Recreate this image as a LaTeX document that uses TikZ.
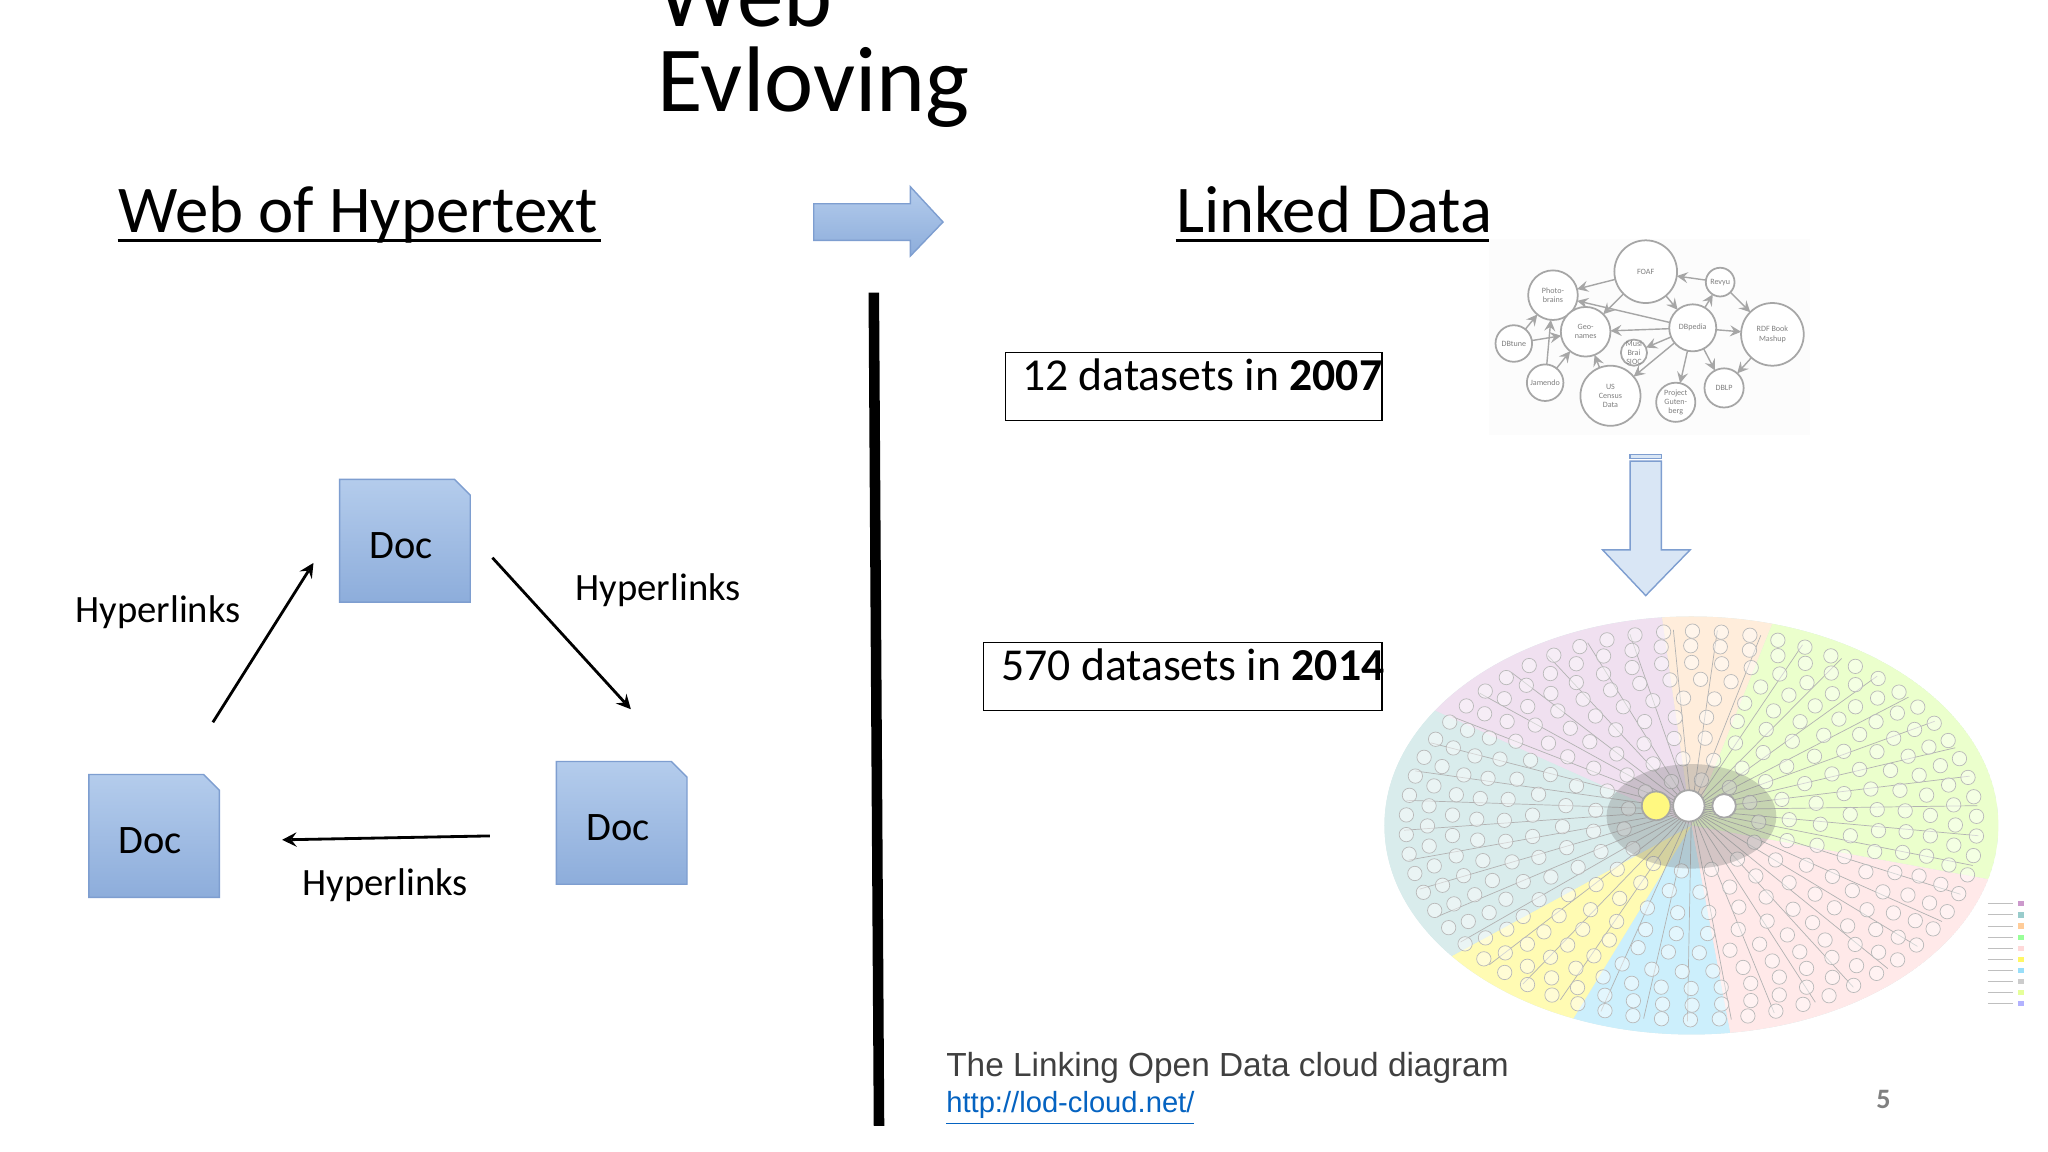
\documentclass[tikz,border=0pt]{standalone}
\usepackage{fontspec}
\setmainfont{Carlito}
\newfontfamily\arialf{Liberation Sans}
\usetikzlibrary{calc}
\definecolor{docA}{HTML}{B4CCEC}
\definecolor{docB}{HTML}{8DADDB}
\definecolor{docE}{HTML}{7E9ED0}
\definecolor{linkblue}{HTML}{0563C1}
\tikzset{
  docbox/.style={draw=docE, top color=docA, bottom color=docB},
  hlink/.style={->, >=stealth, thick},
  lbl/.style={font=\fontsize{11}{13}\selectfont},
  dset/.style={draw, thin},
  lc/.style={draw=gray!70, fill=white, line width=0.5pt},
  lct/.style={font=\fontsize{2.3}{2.6}\selectfont, align=center, text=gray},
  le/.style={gray!70, line width=0.4pt, ->, >=stealth},
}
\begin{document}
\begin{tikzpicture}[x=0.01306cm, y=-0.01306cm]
\useasboundingbox (0,0) rectangle (1568,882);
\fill[white] (0,0) rectangle (1568,882);
% title
\node[anchor=base west, font=\fontsize{26.5}{30}\selectfont, inner sep=0] (t2) at (503,85) {Evloving};
\node[anchor=base west, font=\fontsize{26.5}{30}\selectfont, inner sep=0] (t1) at (503,20) {Web};
% headings
\node[anchor=base west, font=\fontsize{19}{22}\selectfont, inner sep=0] (h1) at (90,178) {Web of Hypertext};
\draw[line width=0.9pt] (90,184) -- (460,184);
\node[anchor=base west, font=\fontsize{19}{22}\selectfont, inner sep=0] (h2) at (900,178) {Linked Data};
\draw[line width=0.9pt] (900,184) -- (1142,184);
% block arrow
\draw[docE, top color=docA, bottom color=docB] (623,156) -- (697,156) -- (697,143) -- (722,170) -- (697,196) -- (697,184) -- (623,184) -- cycle;
% divider
\draw[line width=3pt] (669,224) -- (673,862);
% docs
\foreach \n/\x/\y in {d1/260/367, d2/68/593, d3/426/583}{
  \draw[docbox] (\x,\y) -- (\x+88,\y) -- (\x+100,\y+12) -- (\x+100,\y+94) -- (\x,\y+94) -- cycle;
  \node[font=\fontsize{11.5}{14}\selectfont] (\n) at (\x+47,\y+51) {Doc};
}
\coordinate (a1) at (163,553); \coordinate (b1) at (240,431);
\coordinate (a2) at (377,427); \coordinate (b2) at (483,543);
\coordinate (a3) at (375,640); \coordinate (b3) at (216,643);
\draw[hlink] (a1) -- (b1);
\draw[hlink] (a2) -- (b2);
\draw[hlink] (a3) -- (b3);
\node[lbl] (l1) at (121,469) {Hyperlinks};
\node[lbl] (l2) at (504,452) {Hyperlinks};
\node[lbl] (l3) at (295,678) {Hyperlinks};
% dataset boxes
\draw[dset] (770,270) rectangle (1058,322);
\node[anchor=base west, font=\fontsize{13}{16}\selectfont, inner sep=0] (s1) at (782,299) {12 datasets in \textbf{2007}};
\draw[dset] (753,492) rectangle (1058,544);
\node[anchor=base west, font=\fontsize{13}{16}\selectfont, inner sep=0] (s2) at (766,521) {570 datasets in \textbf{2014}};
% small LOD graph
\fill[gray!2] (1140,183) rectangle (1386,333);
\foreach \n/\x/\y/\r in {foaf/1260/208/24, photo/1189/226/19, revyu/1317/216/11, dbp/1296/251/18, rdfb/1357/256/24, geo/1214/254/19, sioc/1251/270/10, dbt/1159/263/14, jam/1183/293/14, cens/1233/303/23, gut/1283/308/15, dblp/1320/297/15}{
  \coordinate (\n) at (\x,\y);
}
\foreach \a/\b/\ra/\rb in {dbp/photo/18/19, dbp/geo/18/19, foaf/photo/24/19, foaf/geo/24/19, foaf/dbp/24/18, revyu/foaf/11/24, revyu/rdfb/11/24, dbp/revyu/18/11, dbp/rdfb/18/24, dbp/sioc/18/10, dbp/cens/18/23, dbp/gut/18/15, dbp/dblp/18/15, rdfb/dblp/24/15, dbt/geo/14/19, dbt/photo/14/19, jam/geo/14/19, jam/photo/14/19, cens/geo/23/19}{
  \draw[le] ($(\a)!\ra*0.3716pt!(\b)$) -- ($(\b)!\rb*0.3716pt!(\a)$);
}
\foreach \n/\r/\t in {foaf/24/FOAF, photo/19/{Photo-\\brains}, revyu/11/Revyu, dbp/18/DBpedia, rdfb/24/{RDF Book\\Mashup}, geo/19/{Geo-\\names}, sioc/10/{Musi\\Brai\\SIOC}, dbt/14/DBtune, jam/14/Jamendo, cens/23/{US\\Census\\Data}, gut/15/{Project\\Guten-\\berg}, dblp/15/DBLP}{
  \draw[lc] (\n) circle[radius=\r];
  \node[lct] at (\n) {\t};
}
% down arrow
\draw[draw=docE, fill=docA!50] (1248,348) rectangle (1272,351);
\draw[draw=docE, fill=docA!50] (1248,353) -- (1272,353) -- (1272,421) -- (1294,421) -- (1260,456) -- (1227,421) -- (1248,421) -- cycle;
% cloud
\begin{scope}
\clip (1295,632) ellipse [x radius=235, y radius=160];
\fill[teal!18] (1295,632) ellipse [x radius=235, y radius=160];
\fill[violet!12] (1295,632) -- (1000,500) -- (1150,420) -- (1265,420) -- cycle;
\fill[orange!14] (1295,632) -- (1265,420) -- (1380,420) -- cycle;
\fill[green!20!lime!20] (1295,632) -- (1380,420) -- (1560,520) -- (1560,680) -- cycle;
\fill[pink!35] (1295,632) -- (1560,680) -- (1450,820) -- (1330,820) -- cycle;
\fill[cyan!20] (1295,632) -- (1330,820) -- (1180,820) -- cycle;
\fill[yellow!30] (1295,632) -- (1180,820) -- (1060,760) -- cycle;
\fill[teal!15] (1295,632) -- (1060,760) -- (1040,560) -- (1000,500) -- cycle;
\foreach \k in {0,...,40}{
  \draw[gray!60, line width=0.2pt] (1295,620) -- ({1295+220*cos(\k*8.78+3)},{632+150*sin(\k*8.78+3)});
}
\foreach \ring/\cnt in {0.22/14, 0.32/20, 0.42/26, 0.52/32, 0.61/38, 0.70/44, 0.78/50, 0.86/56, 0.93/62}{
  \pgfmathsetmacro{\stp}{360/\cnt}
  \foreach \k in {1,...,\cnt}{
    \pgfmathsetmacro{\ang}{\k*\stp+\ring*97}
    \pgfmathsetmacro{\px}{1295+235*\ring*cos(\ang)}
    \pgfmathsetmacro{\py}{632+160*\ring*sin(\ang)}
    \fill[white, opacity=0.45] (\px,\py) circle[radius=5.5];
    \draw[gray!55, line width=0.2pt] (\px,\py) circle[radius=5.5];
  }
}
\fill[black!55, opacity=0.3] (1295,625) ellipse [x radius=65, y radius=40];
\end{scope}
\draw[lc, fill=yellow!50] (1268,617) circle[radius=11];
\draw[lc] (1293,617) circle[radius=12];
\draw[lc] (1320,617) circle[radius=9];
% legend
\foreach \i/\c in {0/violet!40, 1/teal!40, 2/orange!40, 3/green!40, 4/pink!60, 5/yellow!60, 6/cyan!40, 7/gray!40, 8/lime!40, 9/blue!30}{
  \fill[\c] (1545,690+\i*8.5) rectangle (1550,694+\i*8.5);
  \draw[gray!50, line width=0.3pt] (1522,692+\i*8.5) -- (1541,692+\i*8.5);
}
% caption
\node[anchor=base west, font=\arialf\fontsize{9.5}{11}\selectfont, text=black!75, inner sep=0] (cap) at (724,824) {The Linking Open Data cloud diagram};
\node[anchor=base west, font=\arialf\fontsize{8.3}{10}\selectfont, text=linkblue, inner sep=0] (url) at (724,852) {\underline{http://lod-cloud.net/}};
\node[font=\fontsize{8}{9}\selectfont\bfseries, text=gray] (pg) at (1442,842) {5};
\end{tikzpicture}
\end{document}
